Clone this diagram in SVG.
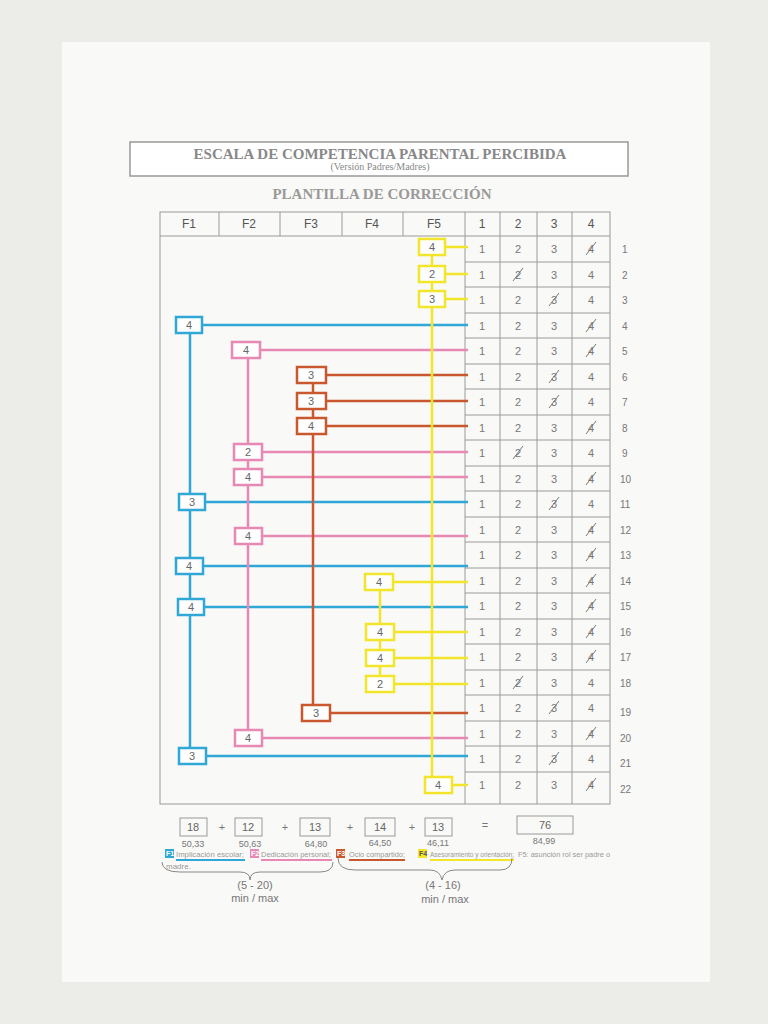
<svg xmlns="http://www.w3.org/2000/svg" width="768" height="1024" viewBox="0 0 768 1024">
<style>
.g{fill:none;stroke:#9a9a9a;stroke-width:1}
.t{font-family:"Liberation Sans",sans-serif;font-size:11px;fill:#777;text-anchor:middle}
.h{font-family:"Liberation Sans",sans-serif;font-size:12px;fill:#555;text-anchor:middle}
.bl{stroke:#2fa8d8;stroke-width:2.5;fill:none}
.pk{stroke:#e889b5;stroke-width:2.5;fill:none}
.br{stroke:#c9582e;stroke-width:2.5;fill:none}
.ye{stroke:#f2e52a;stroke-width:2.5;fill:none}
.bx{fill:#fff}
.n{font-family:"Liberation Sans",sans-serif;font-size:11px;fill:#666;text-anchor:middle}
.x{stroke:#777;stroke-width:1}
.lg{font-family:"Liberation Sans",sans-serif;font-size:8px;fill:#999}
.bd{font-family:"Liberation Sans",sans-serif;font-size:7px;font-weight:bold}
</style>
<rect width="768" height="1024" fill="#ecece8"/>
<rect x="62" y="42" width="648" height="940" fill="#f9f9f7"/>
<rect x="130" y="142" width="498" height="34" fill="#fff" stroke="#999" stroke-width="1.5"/>
<text x="380" y="159" font-family="Liberation Serif,serif" font-size="15" font-weight="bold" fill="#888" text-anchor="middle">ESCALA DE COMPETENCIA PARENTAL PERCIBIDA</text>
<text x="380" y="170" font-family="Liberation Serif,serif" font-size="10" fill="#888" text-anchor="middle">(Versión Padres/Madres)</text>
<text x="382" y="199" font-family="Liberation Serif,serif" font-size="15" font-weight="bold" fill="#999" text-anchor="middle">PLANTILLA DE CORRECCIÓN</text>
<g id="table">
<rect class="g" x="160" y="212" width="450" height="592" fill="#fff"/>
<path class="g" d="M160 236H610M219 212V236M280 212V236M342 212V236M403 212V236M465 212V804M500 212V804M537 212V804M572 212V804"/>
<path class="g" d="M465 262H610M465 287H610M465 313H610M465 338H610M465 364H610M465 389H610M465 415H610M465 440H610M465 466H610M465 491H610M465 517H610M465 542H610M465 568H610M465 593H610M465 619H610M465 644H610M465 670H610M465 695H610M465 721H610M465 746H610M465 772H610"/>
<text class="h" x="189" y="228">F1</text><text class="h" x="249" y="228">F2</text><text class="h" x="311" y="228">F3</text><text class="h" x="372" y="228">F4</text><text class="h" x="434" y="228">F5</text>
<text class="h" x="482" y="228">1</text><text class="h" x="518" y="228">2</text><text class="h" x="554" y="228">3</text><text class="h" x="591" y="228">4</text>
</g>
<g id="connectors">
<path class="bl" d="M190 325V756M202 325H468M205 502H468M203 566H468M204 607H468M206 756H468"/>
<path class="pk" d="M248 350V738M260 350H468M262 452H468M262 477H468M262 536H468M262 738H468"/>
<path class="br" d="M313 375V713M326 375H468M326 401H468M326 426H468M330 713H468"/>
<path class="ye" d="M380 582V684M393 582H468M394 632H468M394 658H468M394 684H468"/>
<path class="ye" d="M432 247V785M445 247H468M445 274H468M445 299H468M452 785H468"/>
</g>
<g id="f1"><g class="bl">
<rect class="bx" x="176" y="317" width="26" height="16"/><rect class="bx" x="179" y="494" width="26" height="16"/><rect class="bx" x="176" y="558" width="27" height="16"/><rect class="bx" x="178" y="599" width="26" height="16"/><rect class="bx" x="179" y="748" width="27" height="16"/></g>
<text class="n" x="189" y="329">4</text><text class="n" x="192" y="506">3</text><text class="n" x="189" y="570">4</text><text class="n" x="191" y="611">4</text><text class="n" x="192" y="760">3</text></g>
<g id="f2"><g class="pk">
<rect class="bx" x="232" y="342" width="28" height="16"/><rect class="bx" x="234" y="444" width="28" height="16"/><rect class="bx" x="234" y="469" width="28" height="16"/><rect class="bx" x="235" y="528" width="27" height="16"/><rect class="bx" x="235" y="730" width="27" height="16"/></g>
<text class="n" x="246" y="354">4</text><text class="n" x="248" y="456">2</text><text class="n" x="248" y="481">4</text><text class="n" x="248" y="540">4</text><text class="n" x="248" y="742">4</text></g>
<g id="f3"><g class="br">
<rect class="bx" x="297" y="367" width="29" height="16"/><rect class="bx" x="297" y="393" width="29" height="16"/><rect class="bx" x="297" y="418" width="29" height="16"/><rect class="bx" x="302" y="705" width="28" height="16"/></g>
<text class="n" x="311" y="379">3</text><text class="n" x="311" y="405">3</text><text class="n" x="311" y="430">4</text><text class="n" x="316" y="717">3</text></g>
<g id="f4"><g class="ye">
<rect class="bx" x="365" y="574" width="28" height="16"/><rect class="bx" x="366" y="624" width="28" height="16"/><rect class="bx" x="366" y="650" width="28" height="16"/><rect class="bx" x="366" y="676" width="28" height="16"/></g>
<text class="n" x="379" y="586">4</text><text class="n" x="380" y="636">4</text><text class="n" x="380" y="662">4</text><text class="n" x="380" y="688">2</text></g>
<g id="f5"><g class="ye">
<rect class="bx" x="419" y="239" width="26" height="16"/><rect class="bx" x="419" y="266" width="26" height="16"/><rect class="bx" x="419" y="291" width="26" height="16"/><rect class="bx" x="425" y="777" width="27" height="16"/></g>
<text class="n" x="432" y="251">4</text><text class="n" x="432" y="278">2</text><text class="n" x="432" y="303">3</text><text class="n" x="438" y="789">4</text></g>
<g id="answers">
<text class="t" x="482" y="253">1</text><text class="t" x="518" y="253">2</text><text class="t" x="554" y="253">3</text><text class="t" x="591" y="253">4</text>
<text class="t" x="482" y="279">1</text><text class="t" x="518" y="279">2</text><text class="t" x="554" y="279">3</text><text class="t" x="591" y="279">4</text>
<text class="t" x="482" y="304">1</text><text class="t" x="518" y="304">2</text><text class="t" x="554" y="304">3</text><text class="t" x="591" y="304">4</text>
<text class="t" x="482" y="330">1</text><text class="t" x="518" y="330">2</text><text class="t" x="554" y="330">3</text><text class="t" x="591" y="330">4</text>
<text class="t" x="482" y="355">1</text><text class="t" x="518" y="355">2</text><text class="t" x="554" y="355">3</text><text class="t" x="591" y="355">4</text>
<text class="t" x="482" y="381">1</text><text class="t" x="518" y="381">2</text><text class="t" x="554" y="381">3</text><text class="t" x="591" y="381">4</text>
<text class="t" x="482" y="406">1</text><text class="t" x="518" y="406">2</text><text class="t" x="554" y="406">3</text><text class="t" x="591" y="406">4</text>
<text class="t" x="482" y="432">1</text><text class="t" x="518" y="432">2</text><text class="t" x="554" y="432">3</text><text class="t" x="591" y="432">4</text>
<text class="t" x="482" y="457">1</text><text class="t" x="518" y="457">2</text><text class="t" x="554" y="457">3</text><text class="t" x="591" y="457">4</text>
<text class="t" x="482" y="483">1</text><text class="t" x="518" y="483">2</text><text class="t" x="554" y="483">3</text><text class="t" x="591" y="483">4</text>
<text class="t" x="482" y="508">1</text><text class="t" x="518" y="508">2</text><text class="t" x="554" y="508">3</text><text class="t" x="591" y="508">4</text>
<text class="t" x="482" y="534">1</text><text class="t" x="518" y="534">2</text><text class="t" x="554" y="534">3</text><text class="t" x="591" y="534">4</text>
<text class="t" x="482" y="559">1</text><text class="t" x="518" y="559">2</text><text class="t" x="554" y="559">3</text><text class="t" x="591" y="559">4</text>
<text class="t" x="482" y="585">1</text><text class="t" x="518" y="585">2</text><text class="t" x="554" y="585">3</text><text class="t" x="591" y="585">4</text>
<text class="t" x="482" y="610">1</text><text class="t" x="518" y="610">2</text><text class="t" x="554" y="610">3</text><text class="t" x="591" y="610">4</text>
<text class="t" x="482" y="636">1</text><text class="t" x="518" y="636">2</text><text class="t" x="554" y="636">3</text><text class="t" x="591" y="636">4</text>
<text class="t" x="482" y="661">1</text><text class="t" x="518" y="661">2</text><text class="t" x="554" y="661">3</text><text class="t" x="591" y="661">4</text>
<text class="t" x="482" y="687">1</text><text class="t" x="518" y="687">2</text><text class="t" x="554" y="687">3</text><text class="t" x="591" y="687">4</text>
<text class="t" x="482" y="712">1</text><text class="t" x="518" y="712">2</text><text class="t" x="554" y="712">3</text><text class="t" x="591" y="712">4</text>
<text class="t" x="482" y="738">1</text><text class="t" x="518" y="738">2</text><text class="t" x="554" y="738">3</text><text class="t" x="591" y="738">4</text>
<text class="t" x="482" y="763">1</text><text class="t" x="518" y="763">2</text><text class="t" x="554" y="763">3</text><text class="t" x="591" y="763">4</text>
<text class="t" x="482" y="789">1</text><text class="t" x="518" y="789">2</text><text class="t" x="554" y="789">3</text><text class="t" x="591" y="789">4</text>
<path class="x" d="M586 255L596 242M513 281L523 268M549 306L559 293M586 332L596 319M586 357L596 344M549 383L559 370M549 408L559 395M586 434L596 421M513 459L523 446M586 485L596 472M549 510L559 497M586 536L596 523M586 561L596 548M586 587L596 574M586 612L596 599M586 638L596 625M586 663L596 650M513 689L523 676M549 714L559 701M586 740L596 727M549 765L559 752M586 791L596 778"/>
</g>
<g id="margin" font-family="Liberation Sans,sans-serif" font-size="10" fill="#777">
<text x="622" y="253">1</text><text x="622" y="279">2</text><text x="622" y="304">3</text><text x="622" y="330">4</text><text x="622" y="355">5</text><text x="622" y="381">6</text><text x="622" y="406">7</text><text x="622" y="432">8</text><text x="622" y="457">9</text><text x="620" y="483">10</text><text x="620" y="508">11</text><text x="620" y="534">12</text><text x="620" y="559">13</text><text x="620" y="585">14</text><text x="620" y="610">15</text><text x="620" y="636">16</text><text x="620" y="661">17</text><text x="620" y="687">18</text><text x="620" y="716">19</text><text x="620" y="742">20</text><text x="620" y="767">21</text><text x="620" y="793">22</text>
</g>
<g id="totals">
<rect class="g" x="180" y="818" width="27" height="18" fill="#fff"/><rect class="g" x="235" y="818" width="27" height="18" fill="#fff"/><rect class="g" x="300" y="818" width="30" height="18" fill="#fff"/><rect class="g" x="365" y="818" width="30" height="18" fill="#fff"/><rect class="g" x="425" y="818" width="27" height="18" fill="#fff"/><rect class="g" x="517" y="816" width="56" height="18" fill="#fff"/>
<text class="n" x="193" y="831">18</text><text class="n" x="248" y="831">12</text><text class="n" x="315" y="831">13</text><text class="n" x="380" y="831">14</text><text class="n" x="438" y="831">13</text><text class="n" x="545" y="829">76</text>
<text class="t" x="222" y="831">+</text><text class="t" x="285" y="831">+</text><text class="t" x="350" y="831">+</text><text class="t" x="412" y="831">+</text><text class="t" x="485" y="829">=</text>
<g font-family="Liberation Sans,sans-serif" font-size="9" fill="#777" text-anchor="middle"><text x="193" y="847">50,33</text><text x="250" y="847">50,63</text><text x="316" y="847">64,80</text><text x="380" y="846">64,50</text><text x="438" y="846">46,11</text><text x="544" y="844">84,99</text></g>
</g>
<g id="legend">
<rect x="165" y="849" width="9" height="9" fill="#2fa8d8"/><rect x="250" y="849" width="9" height="9" fill="#e889b5"/><rect x="336" y="849" width="9" height="9" fill="#c9582e"/><rect x="418" y="849" width="9" height="9" fill="#f2e52a"/>
<text class="bd" x="166" y="856" fill="#fff">F1</text><text class="bd" x="251" y="856" fill="#fff">F2</text><text class="bd" x="337" y="856" fill="#fff">F3</text><text class="bd" x="419" y="856" fill="#555">F4</text>
<text class="lg" x="176" y="857" textLength="68" lengthAdjust="spacingAndGlyphs">Implicación escolar;</text>
<text class="lg" x="261" y="857" textLength="70" lengthAdjust="spacingAndGlyphs">Dedicación personal;</text>
<text class="lg" x="349" y="857" textLength="56" lengthAdjust="spacingAndGlyphs">Ocio compartido;</text>
<text class="lg" x="430" y="857" textLength="84" lengthAdjust="spacingAndGlyphs">Asesoramiento y orientación;</text>
<text class="lg" x="518" y="857" textLength="92" lengthAdjust="spacingAndGlyphs">F5: asunción rol ser padre o</text>
<text class="lg" x="166" y="869">madre.</text>
<path stroke="#2fa8d8" stroke-width="2" d="M176 860H245"/><path stroke="#e889b5" stroke-width="2" d="M261 860H332"/><path stroke="#c9582e" stroke-width="2" d="M349 860H405"/><path stroke="#f2e52a" stroke-width="2" d="M430 860H514"/>
</g>
<g id="braces" fill="none" stroke="#888" stroke-width="1">
<path d="M162 862Q162 872 180 872H240Q250 872 250 880Q250 872 260 872H320Q333 872 333 862"/>
<path d="M338 858Q338 870 355 870H430Q440 870 442 880Q444 870 455 870H500Q512 870 512 858"/>
</g>
<g font-family="Liberation Sans,sans-serif" font-size="11" fill="#777" text-anchor="middle">
<text x="255" y="889">(5 - 20)</text><text x="255" y="902">min / max</text>
<text x="443" y="889">(4 - 16)</text><text x="445" y="903">min / max</text>
</g>
</svg>
